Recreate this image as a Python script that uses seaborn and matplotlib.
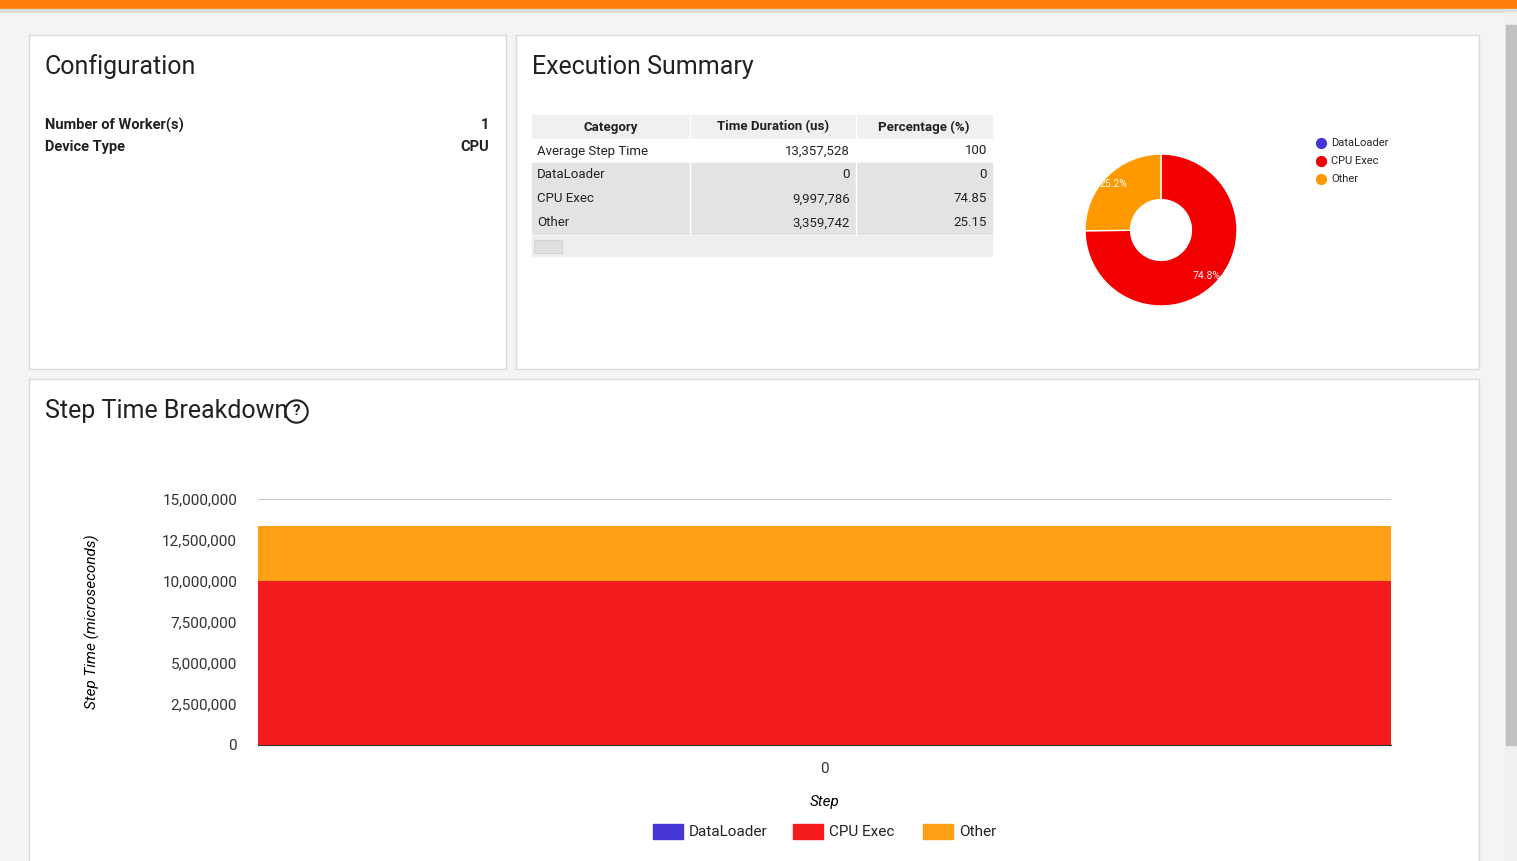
import matplotlib
matplotlib.use("Agg")
import matplotlib.pyplot as plt
from matplotlib.patches import Rectangle
import seaborn as sns
import pandas as pd

W, H = 1517, 861
plt.rcParams["font.family"] = "Roboto"

config_labels = ["Number of Worker(s)", "Device Type"]
config_values = ["1", "CPU"]
table_cols = ["Category", "Time Duration (us)", "Percentage (%)"]
table_cats = ["Average Step Time", "DataLoader", "CPU Exec", "Other"]
table_dur = ["13,357,528", "0", "9,997,786", "3,359,742"]
table_pct = ["100", "0", "74.85", "25.15"]
series = ["DataLoader", "CPU Exec", "Other"]
step_values = [0, 9997786, 3359742]
steps = ["0"]
bar_colors = ["#4536d4", "#f41b1b", "#ff9f14"]
pie_colors = ["#4536d4", "#f20000", "#ff9900"]
yticks = [0, 2500000, 5000000, 7500000, 10000000, 12500000, 15000000]

fig = plt.figure(figsize=(W/100, H/100), dpi=100)
fig.patch.set_facecolor("#f4f4f4")

def px(x, y, w, h):
    return [x/W, 1-(y+h)/H, w/W, h/H]

def T(x, y, s, **kw):
    kw.setdefault("va", "center")
    fig.text(x/W, 1-y/H, s, **kw)

bg = fig.add_axes([0, 0, 1, 1]); bg.set_xlim(0, W); bg.set_ylim(H, 0); bg.axis("off")
bg.add_patch(Rectangle((0, 0), W, 9, color="#ff7f0e"))
bg.add_patch(Rectangle((0, 9), W, 3, color="#dddddd"))
bg.add_patch(Rectangle((1505, 12), 12, H, color="#f0f0f0"))
bg.add_patch(Rectangle((1506, 25), 10, 720, color="#c1c1c1"))
for (x, y, w, h) in [(29, 35, 477, 334), (516, 35, 963, 334), (29, 379, 1450, 500)]:
    bg.add_patch(Rectangle((x, y), w, h, facecolor="white", edgecolor="#dadada", lw=1))

T(45, 67, "Configuration", fontsize=18, color="#212121")
for i, (l, v) in enumerate(zip(config_labels, config_values)):
    T(45, 125+22*i, l, fontsize=10.5, fontweight="bold", color="#212121")
    T(489, 125+22*i, v, fontsize=10.5, fontweight="bold", color="#212121", ha="right")

T(532, 67, "Execution Summary", fontsize=18, color="#212121")
# table
colx = [532, 690, 856, 992]
bg.add_patch(Rectangle((532, 115), 460, 23, color="#f0f0f0"))
for j, c in enumerate(table_cols):
    T((colx[j]+colx[j+1])/2, 127, c, fontsize=9.5, fontweight="bold", ha="center", color="#212121")
for i in range(4):
    y0 = 139 + 24*i
    bg.add_patch(Rectangle((532, y0), 460, 23, color="white" if i == 0 else "#e3e3e3"))
    T(537, y0+12, table_cats[i], fontsize=9.5, color="#212121")
    T(850, y0+12, table_dur[i], fontsize=9.5, color="#212121", ha="right")
    T(987, y0+12, table_pct[i], fontsize=9.5, color="#212121", ha="right")
for xx in colx[1:-1]:
    bg.plot([xx, xx], [115, 235], color="#ffffff", lw=1)
bg.add_patch(Rectangle((532, 236), 460, 20, color="#eeeeee"))
bg.add_patch(Rectangle((534, 240), 28, 13, facecolor="#e0e0e0", edgecolor="#cccccc", lw=0.5))

# donut
pa = fig.add_axes(px(1066, 135, 190, 190))
pv = step_values
wedges, _ = pa.pie(pv, colors=pie_colors, startangle=90, counterclock=False,
                   wedgeprops=dict(width=0.6, edgecolor="white", linewidth=1))
tot = sum(pv)
T(1207, 276, f"{pv[1]/tot*100:.1f}%", fontsize=7.5, color="white", ha="center")
T(1114, 184, f"{pv[2]/tot*100:.1f}%", fontsize=7.5, color="white", ha="center")
for i, s in enumerate(series):
    bg.scatter([1321], [143+18*i], s=50, color=pie_colors[i])
    T(1331, 143+18*i, s, fontsize=8, color="#212121")

T(45, 411, "Step Time Breakdown", fontsize=18, color="#212121")
bg.scatter([296], [411], s=260, facecolor="white", edgecolor="#212121", lw=1.5)
T(296, 411, "?", fontsize=11, ha="center", color="#212121", fontweight="bold")

# bar chart
ax = fig.add_axes(px(258, 499, 1133, 246))
cum = [sum(step_values[:k+1]) for k in range(3)]
for k in [2, 1, 0]:
    df = pd.DataFrame({"step": steps, "v": [cum[k]]})
    sns.barplot(data=df, x="step", y="v", color=bar_colors[k], width=1.0, ax=ax,
                saturation=1, linewidth=0)
ax.set_xlim(-0.5, 0.5); ax.set_ylim(0, 15000000)
ax.set_yticks(yticks)
ax.set_yticklabels([f"{t:,}" for t in yticks], fontsize=11, color="#333333")
ax.tick_params(axis="y", length=0, pad=15)
ax.tick_params(axis="x", length=0, pad=12, labelsize=11, labelcolor="#333333")
ax.grid(axis="y", color="#cccccc", lw=0.8); ax.set_axisbelow(True)
for s in ["top", "right", "left"]:
    ax.spines[s].set_visible(False)
ax.spines["bottom"].set_color("#333333")
ax.set_xlabel("Step", fontsize=11, style="italic", labelpad=14)
ax.set_ylabel("Step Time (microseconds)", fontsize=11, style="italic", labelpad=45)

lx = [653, 793, 923]
for i, s in enumerate(series):
    bg.add_patch(Rectangle((lx[i], 824), 30, 15, color=bar_colors[i]))
    T(lx[i]+36, 832, s, fontsize=11, color="#212121")

fig.savefig("out.png", dpi=100, facecolor=fig.get_facecolor())
